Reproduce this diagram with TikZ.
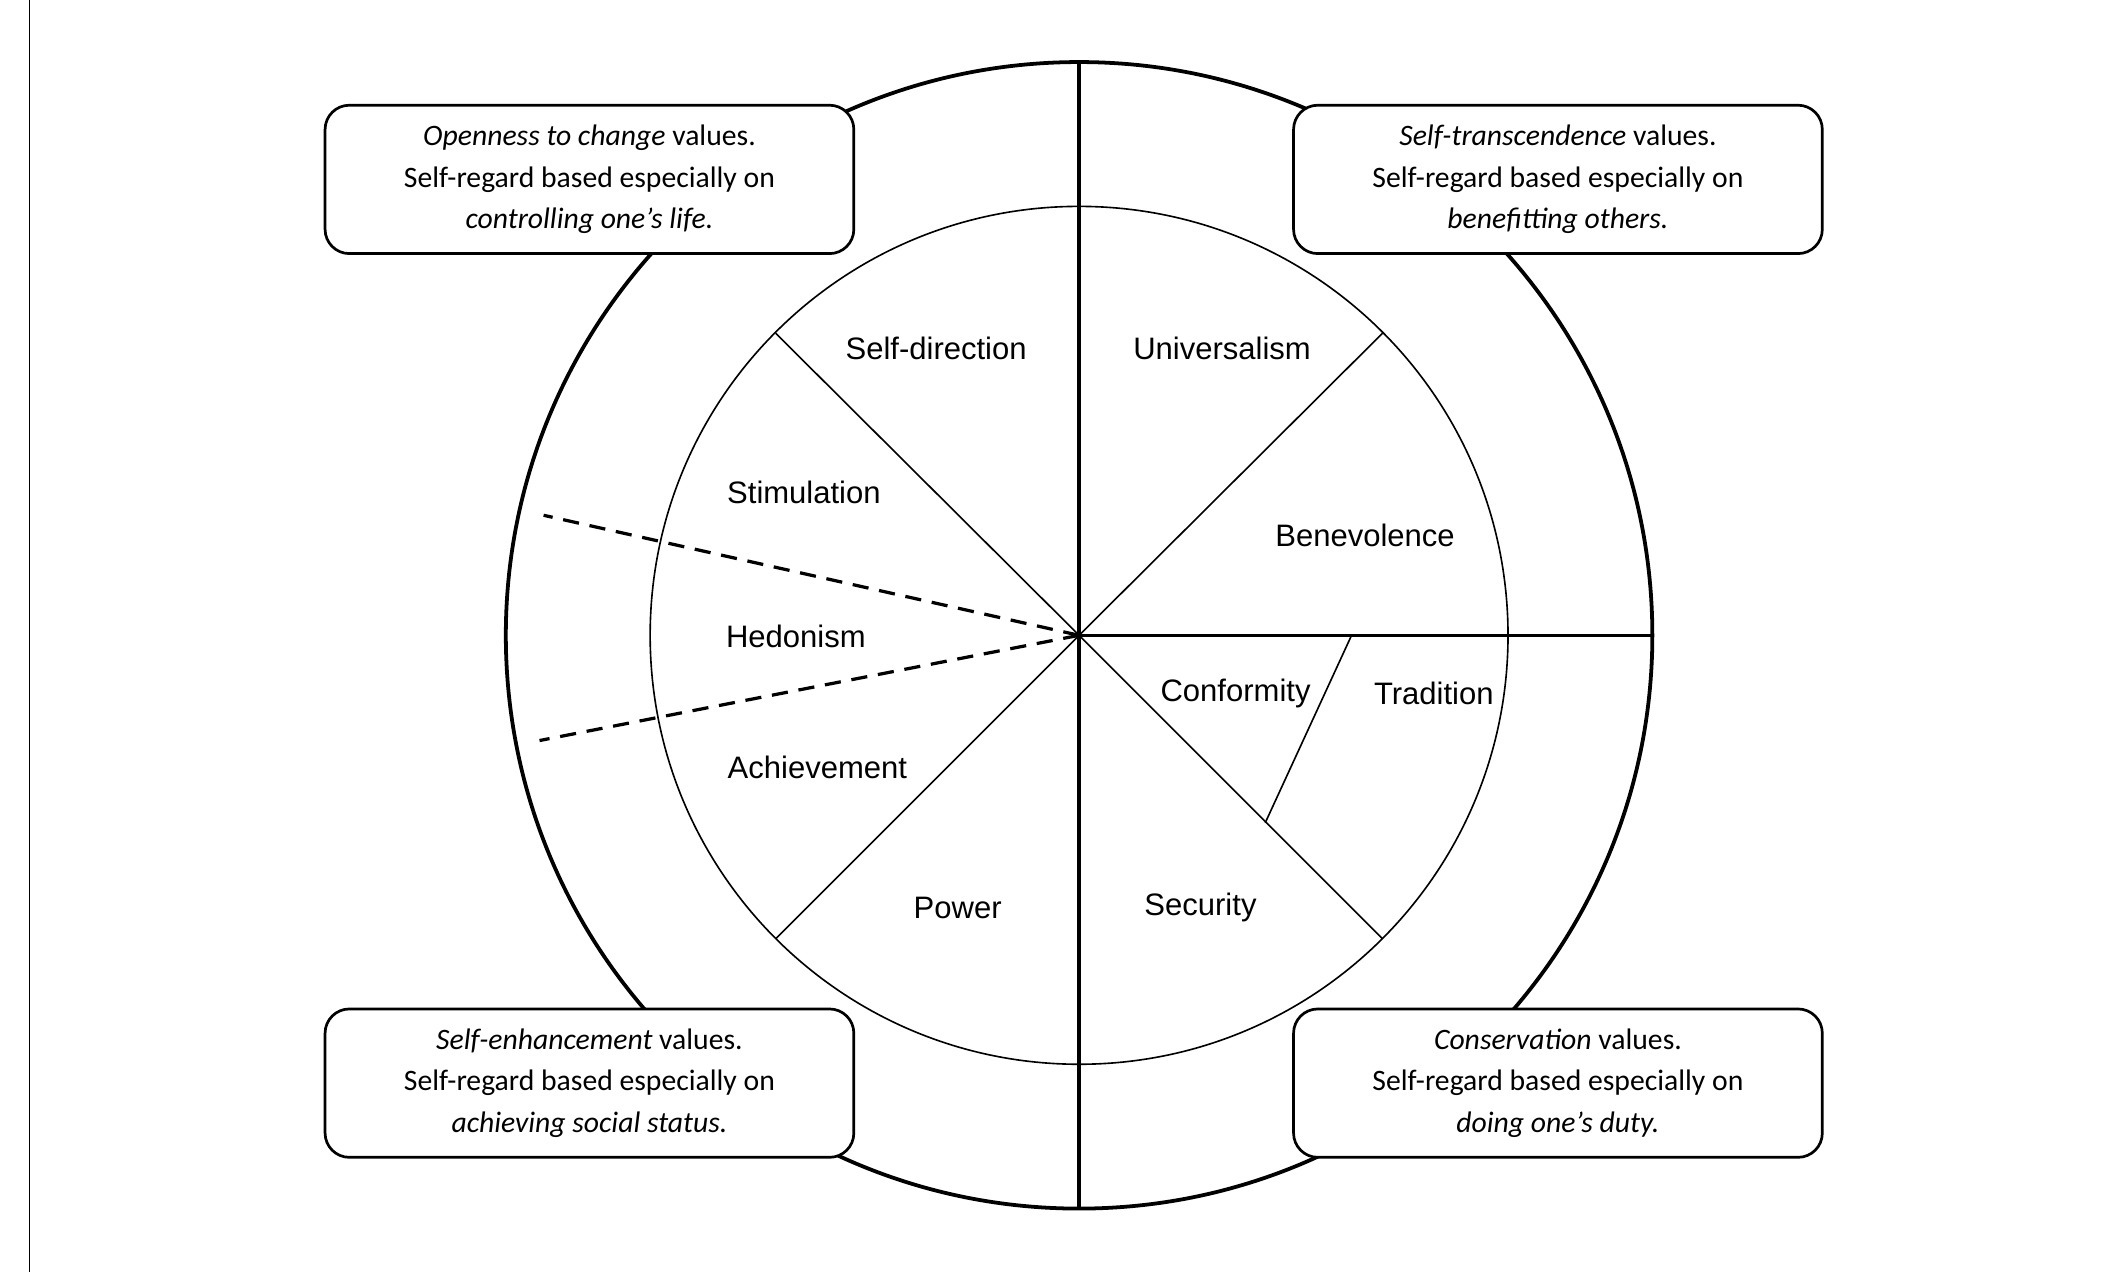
\documentclass[tikz,border=0pt]{standalone}
\usepackage{fontspec}
\setmainfont{Carlito}
\newfontfamily\lab{Liberation Sans}
\begin{document}
\begin{tikzpicture}[x=0.5pt,y=-0.5pt,
  box/.style={draw,line width=1pt,rounded corners=9pt,fill=white,minimum width=196pt,minimum height=55pt,align=center,font=\fontsize{11pt}{15.5pt}\selectfont},
  lbl/.style={font=\lab\fontsize{11.5pt}{13pt}\selectfont},
  thin/.style={line width=0.6pt}]
\useasboundingbox (0,0) rectangle (1568,943);
\draw[line width=0.6pt] (22,0) -- (22,943);
\coordinate (c) at (800,471);
\draw[line width=1.4pt] (c) circle (425);
\draw[thin] (c) circle (318);
\draw[line width=1.2pt] (800,46) -- (800,896);
\draw[line width=1.2pt] (c) -- (1225,471);
\draw[thin] (c) -- (575,247);
\draw[thin] (c) -- (1025,247);
\draw[thin] (c) -- (575,696);
\draw[thin] (c) -- (1025,696);
\draw[thin] (1002,471) -- (938,610);
\draw[line width=1.2pt,dash pattern=on 6pt off 4pt] (c) -- (403,382);
\draw[line width=1.2pt,dash pattern=on 6pt off 4pt] (c) -- (400,549);
\node[lbl] (sd) at (694,258) {Self-direction};
\node[lbl] (un) at (906,258) {Universalism};
\node[lbl] (st) at (596,365) {Stimulation};
\node[lbl] (be) at (1012,397) {Benevolence};
\node[lbl] (he) at (590,472) {Hedonism};
\node[lbl] (co) at (916,514) {Conformity};
\node[lbl] (tr) at (1063,514) {Tradition};
\node[lbl] (ac) at (606,569) {Achievement};
\node[lbl] (po) at (710,673) {Power};
\node[lbl] (se) at (890,673) {Security};
\node[box] (b1) at (437,133) {\textit{Openness to change} values.\\Self-regard based especially on\\\textit{controlling one’s life.}};
\node[box] (b2) at (1155,133) {\textit{Self-transcendence} values.\\Self-regard based especially on\\\textit{benefitting others.}};
\node[box] (b3) at (437,803) {\textit{Self-enhancement} values.\\Self-regard based especially on\\\textit{achieving social status.}};
\node[box] (b4) at (1155,803) {\textit{Conservation} values.\\Self-regard based especially on\\\textit{doing one’s duty.}};
\end{tikzpicture}
\end{document}
